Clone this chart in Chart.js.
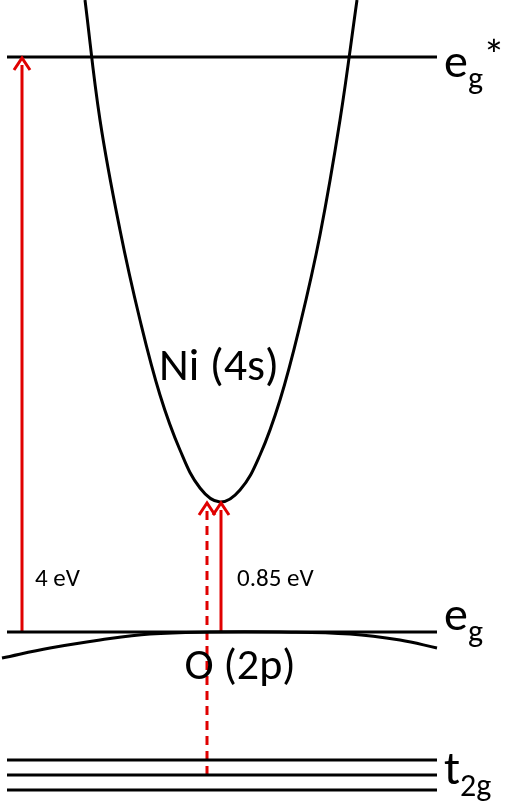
<!DOCTYPE html>
<html><head><meta charset="utf-8">
<script src="https://cdn.jsdelivr.net/npm/chart.js"></script>
<style>html,body{margin:0;padding:0;background:#fff}#wrap{width:520px;height:810px}</style>
</head><body><div id="wrap"><canvas id="c"></canvas></div>
<script>
// energy levels (diagram units, y grows downward)
const levelX = [7, 437];
const egStarY = 57;
const egY = 632;
const t2gY = [760, 775, 790];

// Ni (4s) band
const niX = [85, 100, 120, 140, 160, 180, 200, 220, 240, 260, 280, 300, 320, 340, 357];
const niY = [0, 120, 230, 320, 395, 450, 488, 502, 490, 455, 400, 325, 235, 120, 0];

// O (2p) band
const oX = [2, 50, 100, 150, 210, 280, 350, 400, 437];
const oY = [658, 648, 640, 634, 632, 632, 634, 640, 648];

// arrows: [x, fromY, toY, dashed]
const arrows = [[22, 632, 57, false], [207, 775, 502, true], [221, 632, 502, false]];

const labels = [
  {t: '4 eV', x: 35, y: 580, size: 25, align: 'left'},
  {t: '0.85 eV', x: 237, y: 580, size: 25, align: 'left'},
  {t: 'Ni (4s)', x: 219, y: 368, size: 46, align: 'center'},
  {t: 'O (2p)', x: 240, y: 668, size: 44, align: 'center'}
];

const pts = (xs, ys) => xs.map((x, i) => ({x, y: ys[i]}));
const hline = y => ({data: [{x: levelX[0], y}, {x: levelX[1], y}], borderColor: '#000', borderWidth: 3, pointRadius: 0, showLine: true});

const datasets = [hline(egStarY), hline(egY), ...t2gY.map(hline)];
datasets.push({data: pts(niX, niY), borderColor: '#000', borderWidth: 3, pointRadius: 0, showLine: true, tension: 0.4});
datasets.push({data: pts(oX, oY), borderColor: '#000', borderWidth: 3, pointRadius: 0, showLine: true, tension: 0.4});
arrows.forEach(a => {
  datasets.push({data: [{x: a[0], y: a[1]}, {x: a[0], y: a[2] + 8}], borderColor: '#e00000', borderWidth: 3,
    borderDash: a[3] ? [9, 6] : [], pointRadius: 0, showLine: true});
});

const FONT = 'px Calibri, Carlito, "Open Sans", sans-serif';

const textPlugin = {
  id: 'texts',
  afterDatasetsDraw(chart) {
    const {ctx, scales: {x, y}} = chart;
    ctx.save();
    ctx.fillStyle = '#000';
    ctx.textBaseline = 'middle';
    labels.forEach(l => {
      ctx.font = l.size + FONT;
      ctx.textAlign = l.align;
      ctx.fillText(l.t, x.getPixelForValue(l.x), y.getPixelForValue(l.y));
    });
    // arrowheads
    ctx.strokeStyle = '#e00000';
    ctx.lineWidth = 3;
    arrows.forEach(a => {
      const px = x.getPixelForValue(a[0]), py = y.getPixelForValue(a[2]);
      ctx.beginPath();
      ctx.moveTo(px - 8, py + 13); ctx.lineTo(px, py + 1); ctx.lineTo(px + 8, py + 13);
      ctx.stroke();
    });
    // level labels with subscripts
    const sub = (base, s, extra, lx, ly) => {
      ctx.textAlign = 'left';
      ctx.font = '48' + FONT;
      const px = x.getPixelForValue(lx), py = y.getPixelForValue(ly);
      ctx.fillText(base, px, py);
      const w = ctx.measureText(base).width;
      ctx.font = '32' + FONT;
      ctx.fillText(s, px + w, py + 16);
      if (extra) {
        const w2 = ctx.measureText(s).width;
        ctx.font = '44' + FONT;
        ctx.fillText(extra, px + w + w2, py - 6);
      }
    };
    sub('e', 'g', '*', 444, egStarY + 8);
    sub('e', 'g', '', 444, egY - 14);
    sub('t', '2g', '', 444, 772);
    ctx.restore();
  }
};

new Chart(document.getElementById('c'), {
  type: 'scatter',
  data: {datasets},
  options: {
    responsive: true, maintainAspectRatio: false, animation: false,
    layout: {padding: 0},
    plugins: {legend: {display: false}, tooltip: {enabled: false}},
    scales: {
      x: {type: 'linear', min: 0, max: 520, display: false},
      y: {type: 'linear', min: 0, max: 810, reverse: true, display: false}
    }
  },
  plugins: [textPlugin]
});
</script>
</body></html>
